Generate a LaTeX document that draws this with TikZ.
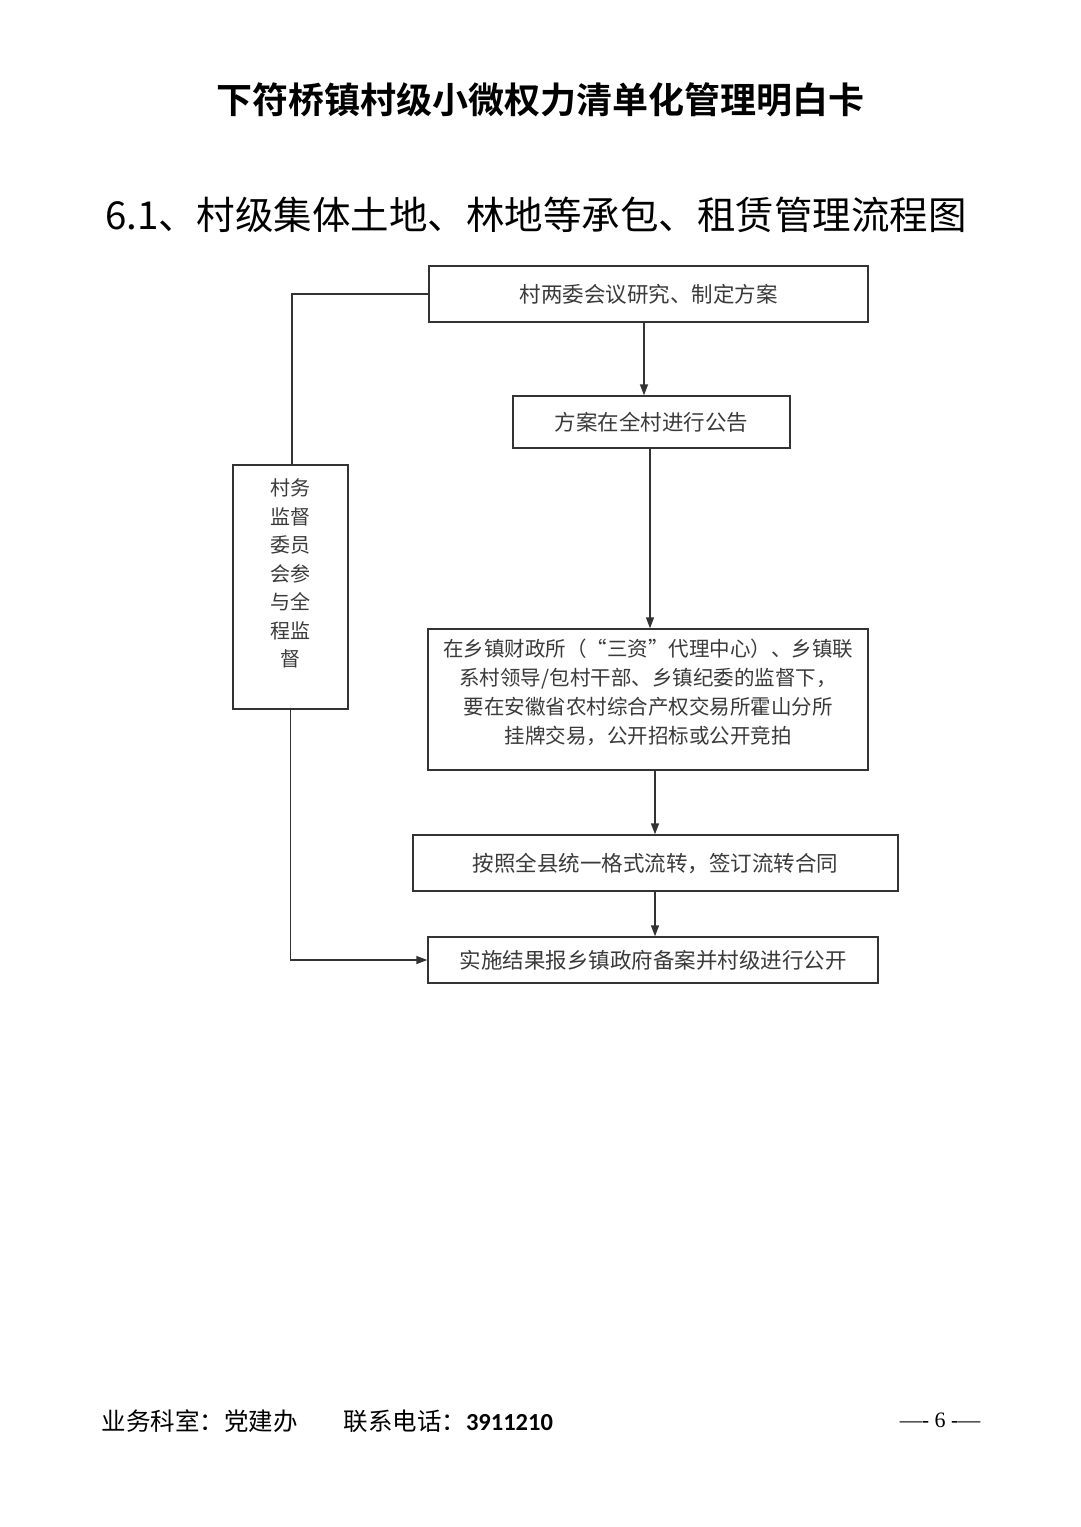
\documentclass[tikz,border=0pt]{standalone}
\usepackage{fontspec}
\usetikzlibrary{arrows.meta}
\newfontfamily\cjk{Noto Sans CJK SC}[BoldFont=Noto Sans CJK SC Bold]
\newfontfamily\carl{Carlito}
\newfontfamily\tnr{Liberation Serif}
\definecolor{ln}{HTML}{333333}
\definecolor{tx}{HTML}{3A3A3A}
\tikzset{
  flowbox/.style={draw=ln, line width=1.4pt, rectangle, align=center, inner sep=0pt,
     font=\cjk\fontsize{21.5}{29}\selectfont, text=tx},
  conn/.style={draw=ln, line width=1.4pt},
  arr/.style={conn, -{Triangle[length=11pt,width=8pt]}},
}
\begin{document}
\begin{tikzpicture}[x=1pt,y=-1pt]
\useasboundingbox[fill=white] (0,0) rectangle (1080,1527);
% titles
\node[font=\cjk\bfseries\fontsize{36}{42}\selectfont, text=black] (t1) at (540,100) {下符桥镇村级小微权力清单化管理明白卡};
\node[font=\cjk\fontsize{38.5}{44}\selectfont, text=black] (t2) at (536,215) {6.1、村级集体土地、林地等承包、租赁管理流程图};
% boxes
\node[flowbox, minimum width=439pt, minimum height=56pt] (b1) at (648.5,294) {村两委会议研究、制定方案};
\node[flowbox, minimum width=277pt, minimum height=52pt] (b2) at (651.5,422) {方案在全村进行公告};
\node[flowbox, minimum width=440pt, minimum height=141pt, font=\cjk\fontsize{20.5}{29}\selectfont] (b3) at (648,699.5) {在乡镇财政所（“三资”代理中心）、乡镇联\\系村领导/包村干部、乡镇纪委的监督下，\\要在安徽省农村综合产权交易所霍山分所\\挂牌交易，公开招标或公开竞拍\\[-12pt]\mbox{}};
\node[flowbox, minimum width=485pt, minimum height=56pt] (b4) at (655.5,863) {按照全县统一格式流转，签订流转合同};
\node[flowbox, minimum width=450pt, minimum height=46pt] (b5) at (653,960) {实施结果报乡镇政府备案并村级进行公开};
\node[flowbox, minimum width=115pt, minimum height=244pt, font=\cjk\fontsize{20}{28.5}\selectfont] (lb) at (290.5,587) {村务\\监督\\委员\\会参\\与全\\程监\\督\\\mbox{}};
% connectors
\draw[arr] ([xshift=-4.5pt]b1.south) -- ([xshift=-7.5pt]b2.north);
\draw[arr] ([xshift=-1.5pt]b2.south) -- ([xshift=2pt]b3.north);
\draw[arr] ([xshift=7pt]b3.south) -- ([xshift=-0.5pt]b4.north);
\draw[arr] ([xshift=-0.5pt]b4.south) -- ([xshift=2pt]b5.north);
\draw[conn] (b1.west) -| ([xshift=1.5pt]lb.north);
\draw[arr] (lb.south) |- (b5.west);
% footer
\node[anchor=west, font=\cjk\fontsize{24.5}{28}\selectfont, text=black] (f1) at (98,1421) {业务科室：党建办};
\node[anchor=west, font=\cjk\fontsize{24.5}{28}\selectfont, text=black] (f2) at (340,1421) {联系电话：{\carl\bfseries 3911210}};
\node[anchor=east, font=\tnr\fontsize{22}{26}\selectfont, text=black] (f3) at (984,1420) {—- 6 -—};
\end{tikzpicture}
\end{document}
